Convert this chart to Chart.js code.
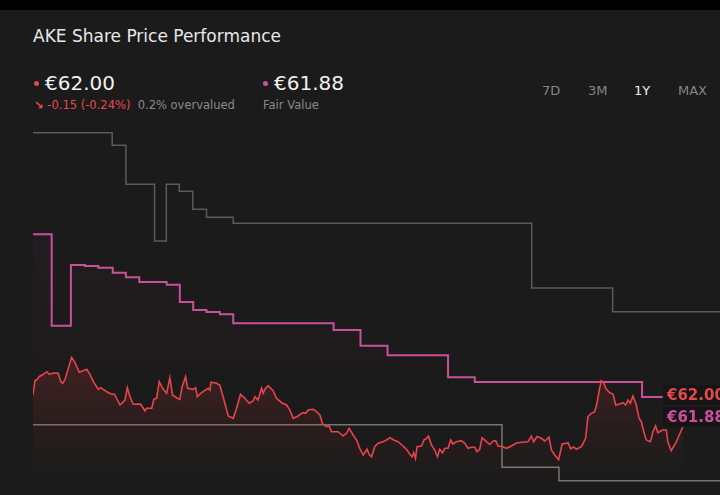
<!DOCTYPE html>
<html>
<head>
<meta charset="utf-8">
<script src="https://cdn.jsdelivr.net/npm/chart.js@4.4.0/dist/chart.umd.min.js"></script>
<style>
  html, body { margin: 0; padding: 0; }
  body {
    width: 720px; height: 495px; overflow: hidden; position: relative;
    background: #1b1b1b; font-family: "DejaVu Sans", sans-serif; color: #e8e8e8;
  }
  .topbar { position: absolute; left: 0; top: 0; width: 720px; height: 10px; background: #000; }
  .title { position: absolute; left: 33px; top: 26px; font-size: 17px; }
  .dot { position: absolute; width: 5px; height: 5px; border-radius: 50%; }
  .big { position: absolute; top: 71px; font-size: 20px; color: #f0f0f0; }
  .sub { position: absolute; top: 98px; font-size: 11.5px; color: #8a8a8a; }
  .red { color: #e5484d; }
  .arrow { font-weight: bold; }
  .btn { position: absolute; top: 83px; font-size: 13px; color: #858585; }
  .btn.on { color: #f0f0f0; }
  #wrap { position: absolute; left: 33px; top: 120px; width: 687px; height: 370px; }
  .tag {
    position: absolute; left: 663px; padding: 1px 4px; font-size: 15px; font-weight: bold;
    background: rgba(22, 19, 19, 0.75); white-space: nowrap;
  }
</style>
</head>
<body>
<div class="topbar"></div>
<div class="title">AKE Share Price Performance</div>

<div class="dot" style="left:34px; top:81px; background:#e5484d;"></div>
<div class="big" style="left:45px;">€62.00</div>
<div class="sub" style="left:34px;"><span class="red"><span class="arrow">↘</span> -0.15 (-0.24%)</span>&nbsp; 0.2% overvalued</div>

<div class="dot" style="left:263px; top:81px; background:#c9509a;"></div>
<div class="big" style="left:274px;">€61.88</div>
<div class="sub" style="left:263px;">Fair Value</div>

<div class="btn" style="left:542px;">7D</div>
<div class="btn" style="left:588px;">3M</div>
<div class="btn on" style="left:634px;">1Y</div>
<div class="btn" style="left:678px;">MAX</div>

<div id="wrap"><canvas id="perf"></canvas></div>
<div class="tag" style="top:385px; color:#e5484d;">€62.00</div>
<div class="tag" style="top:407px; color:#c9509a;">€61.88</div>

<script>
// days since start of the 1Y window, and closing prices
const priceDays = [0, 1.1, 2.4, 3.4, 5.8, 7.7, 9.2, 11.4, 14.2, 15.6, 16.7, 18.0, 21.7, 23.6, 26.0, 30.2, 32.0, 33.9, 36.7, 38.0,
  41.4, 44.2, 45.7, 48.9, 51.7, 53.0, 54.5, 56.3, 60.5, 62.9, 63.8, 66.7, 67.9, 69.5, 70.9, 72.8, 75.1, 76.9, 78.4, 80.7,
  82.5, 83.8, 85.7, 86.9, 90.0, 91.4, 92.3, 94.7, 98.4, 99.4, 100.0, 103.2, 105.0, 107.3, 109.7, 112.5, 114.4, 116.6, 119.0, 121.5,
  123.7, 124.7, 126.4, 128.4, 129.3, 130.3, 132.1, 134.9, 136.8, 139.7, 142.5, 144.3, 146.2, 149.0, 150.9, 152.2, 153.3, 154.6, 157.4, 159.3,
  161.2, 162.7, 164.9, 166.4, 167.7, 171.4, 174.2, 176.2, 177.6, 179.9, 181.8, 183.6, 185.5, 186.4, 187.7, 188.8, 190.2, 192.0, 193.9, 196.7,
  198.6, 200.5, 202.7, 205.1, 207.9, 210.2, 211.7, 213.0, 213.9, 214.9, 215.8, 218.3, 219.6, 221.1, 222.2, 223.9, 225.7, 227.3, 228.5, 230.1,
  231.4, 233.2, 234.7, 236.0, 237.9, 240.7, 242.6, 244.4, 246.3, 248.2, 249.5, 251.0, 252.3, 254.8, 256.6, 258.5, 260.0, 261.3, 264.1, 266.0,
  268.8, 271.6, 274.4, 278.1, 280.0, 281.3, 283.2, 285.6, 287.5, 288.4, 289.9, 291.3, 293.1, 295.3, 297.3, 300.7, 302.1, 303.8, 305.3, 308.1,
  310.5, 311.8, 313.7, 315.6, 316.9, 318.0, 319.3, 320.6, 321.8, 324.0, 325.9, 327.4, 329.6, 331.5, 333.0, 334.3, 335.6, 337.1, 339.0, 340.5,
  341.8, 342.7, 343.7, 344.6, 346.9, 348.3, 349.8, 351.1, 353.6, 355.8, 356.7, 358.6, 361.5, 364.3, 365.2];
const priceValues = [65.20, 66.63, 66.77, 67.03, 67.27, 67.53, 67.27, 67.40, 67.37, 66.53, 66.37, 66.77, 68.97, 68.43, 67.47, 67.77, 67.27, 66.53, 65.77, 65.93,
  65.53, 65.27, 65.30, 64.20, 64.70, 65.93, 65.03, 64.27, 64.30, 63.60, 63.87, 63.87, 64.77, 64.87, 66.53, 65.87, 65.37, 66.93, 65.20, 64.93,
  64.77, 66.03, 67.03, 65.87, 65.77, 65.93, 65.03, 65.43, 65.87, 65.70, 66.47, 66.37, 66.17, 64.70, 63.10, 62.87, 63.87, 65.27, 64.87, 64.37,
  64.60, 65.03, 64.70, 65.87, 65.37, 65.77, 66.13, 65.63, 64.87, 64.43, 64.20, 63.70, 62.87, 63.10, 63.37, 63.43, 63.37, 63.70, 63.77, 63.53,
  63.20, 62.30, 62.03, 62.10, 61.53, 61.53, 61.10, 61.37, 61.87, 61.20, 60.70, 59.87, 59.20, 59.43, 59.77, 59.27, 59.03, 60.03, 60.37, 60.53,
  60.70, 60.93, 60.70, 60.53, 60.10, 59.70, 59.27, 59.03, 59.43, 58.87, 60.03, 60.10, 60.70, 60.87, 61.10, 60.20, 59.70, 59.03, 59.77, 59.43,
  59.87, 59.87, 60.70, 60.30, 60.53, 60.63, 60.37, 59.87, 59.97, 59.97, 59.53, 59.77, 60.93, 60.53, 60.25, 60.58, 60.63, 60.10, 60.03, 59.87,
  60.10, 60.40, 60.47, 60.53, 61.10, 60.53, 61.05, 60.87, 60.60, 60.70, 61.00, 59.70, 59.20, 58.73, 60.30, 60.40, 59.82, 60.00, 59.77, 60.03,
  60.87, 63.03, 63.37, 63.53, 64.37, 65.53, 66.63, 66.43, 65.87, 65.43, 65.30, 64.20, 64.30, 64.43, 64.20, 64.70, 64.37, 65.10, 64.20, 62.87,
  62.53, 61.87, 61.20, 60.70, 60.53, 61.53, 62.10, 61.43, 61.70, 61.70, 60.53, 59.63, 60.53, 61.70, 62.00];

// fair value estimate, each entry is the day a new level starts
const fairDays = [0, 10.5, 21.3, 29.2, 36.7, 44.8, 52.2, 59.7, 75.1, 82.5, 90.0, 97.5, 105.0, 112.5, 168.9, 184.0, 199.2, 233.2, 248.2, 342.2, 353.8];
const fairValues = [81.27, 72.13, 78.20, 78.10, 77.93, 77.43, 76.97, 76.50, 76.23, 74.50, 73.70, 73.50, 73.27, 72.37, 71.70, 70.13, 69.17, 66.97, 66.50, 65.00, 65.00];

// grey upper and lower step lines
const upperDays = [0, 44.5, 52.2, 68.3, 74.9, 82.2, 89.8, 97.5, 112.5, 280.2, 325.7, 386];
const upperValues = [91.43, 90.17, 86.27, 80.60, 86.27, 85.57, 83.77, 82.97, 82.37, 75.90, 73.53, 73.53];
const lowerDays = [0, 263.5, 295.5, 386];
const lowerValues = [62.23, 57.97, 56.63, 56.63];

const toPoints = (xs, ys) => xs.map((x, i) => ({ x: x, y: ys[i] }));

const ctx = document.getElementById("perf").getContext("2d");
const redFill = ctx.createLinearGradient(0, 230, 0, 360);
redFill.addColorStop(0, "rgba(205, 55, 55, 0.22)");
redFill.addColorStop(1, "rgba(205, 55, 55, 0.0)");
const pinkFill = ctx.createLinearGradient(0, 110, 0, 300);
pinkFill.addColorStop(0, "rgba(200, 80, 150, 0.04)");
pinkFill.addColorStop(1, "rgba(200, 80, 150, 0)");

new Chart(ctx, {
    type: "line",
    data: {
        datasets: [{
            label: "Price",
            data: toPoints(priceDays, priceValues),
            borderColor: "#e8434a",
            borderWidth: 1.6,
            backgroundColor: redFill,
            fill: "start",
            pointRadius: 0,
            tension: 0
        }, {
            label: "Fair Value",
            data: toPoints(fairDays, fairValues),
            borderColor: "#c9509a",
            borderWidth: 2,
            backgroundColor: pinkFill,
            fill: "start",
            stepped: true,
            pointRadius: 0
        }, {
            label: "Upper",
            data: toPoints(upperDays, upperValues),
            borderColor: "#5b5a55",
            borderWidth: 1.5,
            fill: false,
            stepped: true,
            pointRadius: 0
        }, {
            label: "Lower",
            data: toPoints(lowerDays, lowerValues),
            borderColor: "#7c766e",
            borderWidth: 1.5,
            fill: false,
            stepped: true,
            pointRadius: 0
        }]
    },
    options: {
        animation: false,
        maintainAspectRatio: false,
        layout: { padding: 0 },
        scales: {
            x: { type: "linear", min: 0, max: 386, display: false },
            y: { min: 55.7, max: 92.7, display: false }
        },
        plugins: {
            legend: { display: false },
            tooltip: { enabled: false }
        }
    }
});
</script>
</body>
</html>
